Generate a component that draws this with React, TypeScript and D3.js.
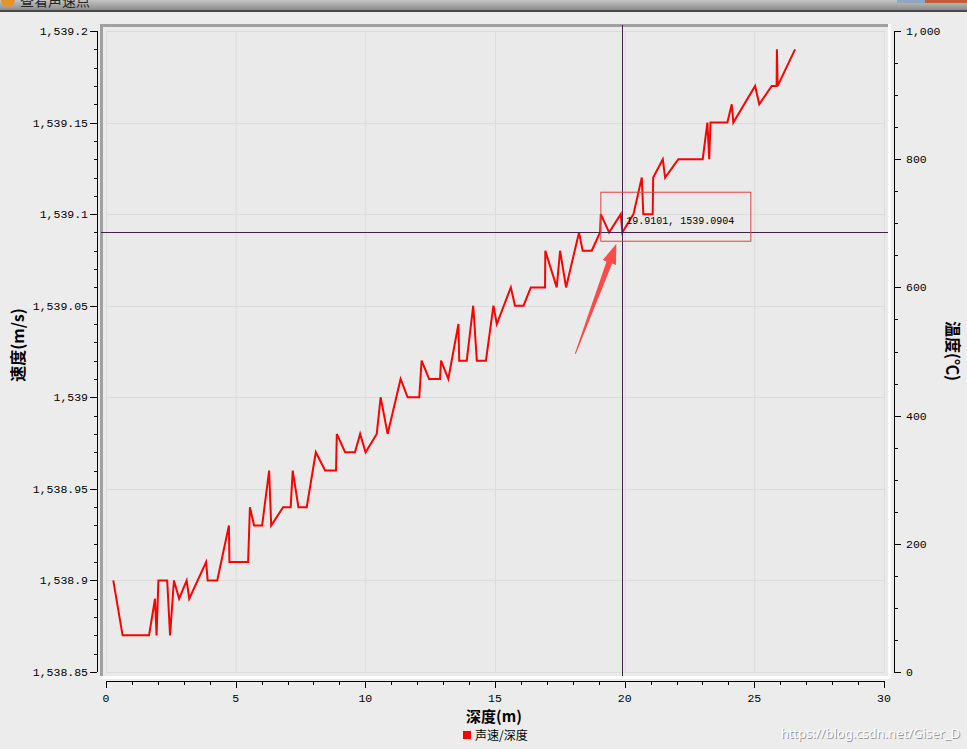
import React from 'react';
import * as d3 from 'd3';

// depth (m) / sound speed (m/s)
const depths = [
  0.28, 0.64, 1.66, 1.89, 1.95, 2.02, 2.36, 2.47, 2.62, 2.82, 3.11, 3.21, 3.86, 3.92, 4.29,
  4.74, 4.76, 5.48, 5.55, 5.71, 6.02, 6.29, 6.37, 6.83, 7.12, 7.2, 7.42, 7.74, 8.09, 8.45,
  8.87, 8.9, 9.22, 9.6, 9.8, 10.01, 10.44, 10.59, 10.86, 11.36, 11.63, 12.08, 12.17, 12.46,
  12.88, 12.92, 13.2, 13.59, 13.62, 13.91, 14.16, 14.3, 14.65, 14.94, 15.07, 15.61, 15.77,
  16.1, 16.38, 16.93, 16.94, 17.38, 17.51, 17.74, 18.24, 18.38, 18.73, 19.05, 19.08, 19.4,
  19.85, 19.91, 20.34, 20.66, 20.72, 21.08, 21.1, 21.47, 21.56, 22.07, 23.01, 23.19, 23.26,
  23.31, 23.96, 24.13, 24.19, 25.03, 25.19, 25.67, 25.86, 25.87, 25.9, 26.57,
];
const speeds = [
  1538.9, 1538.87, 1538.87, 1538.89, 1538.87, 1538.9, 1538.9, 1538.87, 1538.9, 1538.89, 1538.9, 1538.89, 1538.91, 1538.9, 1538.9,
  1538.93, 1538.91, 1538.91, 1538.94, 1538.93, 1538.93, 1538.96, 1538.93, 1538.94, 1538.94, 1538.96, 1538.94, 1538.94, 1538.97, 1538.96,
  1538.96, 1538.98, 1538.97, 1538.97, 1538.98, 1538.97, 1538.98, 1539.0, 1538.98, 1539.01, 1539.0, 1539.0, 1539.02, 1539.01,
  1539.01, 1539.02, 1539.01, 1539.04, 1539.02, 1539.02, 1539.05, 1539.02, 1539.02, 1539.05, 1539.04, 1539.06, 1539.05,
  1539.05, 1539.06, 1539.06, 1539.08, 1539.06, 1539.08, 1539.06, 1539.09, 1539.08, 1539.08, 1539.09, 1539.1, 1539.09,
  1539.1, 1539.09, 1539.1, 1539.12, 1539.1, 1539.1, 1539.12, 1539.13, 1539.12, 1539.13, 1539.13, 1539.15, 1539.13,
  1539.15, 1539.15, 1539.16, 1539.15, 1539.17, 1539.16, 1539.17, 1539.17, 1539.19, 1539.17, 1539.19,
];

const xTicks = [0, 5, 10, 15, 20, 25, 30];
const yTicks = [1538.85, 1538.9, 1538.95, 1539, 1539.05, 1539.1, 1539.15, 1539.2];
const tempTicks = [0, 200, 400, 600, 800, 1000];

const cursor = { depth: 19.9101, speed: 1539.0904 };

const W = 967;
const H = 749;
const mono = '"Liberation Mono", "DejaVu Sans Mono", monospace';
const cjk = '"Noto Sans CJK SC", "Noto Sans", sans-serif';

const App: React.FC = () => {
  const x = d3.scaleLinear().domain([0, 30]).range([106, 884]);
  const y = d3.scaleLinear().domain([1538.85, 1539.2]).range([672, 31]);
  const yT = d3.scaleLinear().domain([0, 1000]).range([672, 31]);
  const fmt = d3.format(',');

  const data = depths.map((d, i) => ({ d, v: speeds[i] }));
  const line = d3.line<{ d: number; v: number }>().x(p => x(p.d)).y(p => y(p.v));

  const xMinor = d3.range(0, 31, 1);
  const yMinor = d3.range(0, 36).map(i => 1538.85 + i * 0.01);
  const tMinor = d3.range(0, 1001, 50);

  const axisBottomY = 681;
  const axisLeftX = 97;
  const axisRightX = 894;

  const cx = x(cursor.depth);
  const cy = y(cursor.speed);

  // arrow pointing at the readout
  const tip = [cx - 6, cy + 12];
  const tail = [tip[0] - 41, tip[1] + 110];
  const ang = Math.atan2(tip[1] - tail[1], tip[0] - tail[0]);
  const len = Math.hypot(tip[0] - tail[0], tip[1] - tail[1]);
  const ux = Math.cos(ang), uy = Math.sin(ang);
  const nx = -uy, ny = ux;
  const headLen = 20, headW = 7, shaftW = 3;
  const base = [tail[0] + ux * (len - headLen), tail[1] + uy * (len - headLen)];
  const arrowPts = [
    [tail[0] + nx * 0.5, tail[1] + ny * 0.5],
    [base[0] + nx * shaftW, base[1] + ny * shaftW],
    [base[0] + nx * headW, base[1] + ny * headW],
    tip,
    [base[0] - nx * headW, base[1] - ny * headW],
    [base[0] - nx * shaftW, base[1] - ny * shaftW],
    [tail[0] - nx * 0.5, tail[1] - ny * 0.5],
  ].map(p => p.join(',')).join(' ');

  return (
    <svg width={W} height={H} style={{ position: 'absolute', left: 0, top: 0 }}>
      <defs>
        <linearGradient id="titlebar" x1="0" y1="0" x2="0" y2="1">
          <stop offset="0" stopColor="#c4c4c4" />
          <stop offset="1" stopColor="#8c8c8c" />
        </linearGradient>
        <clipPath id="titleclip">
          <rect x={0} y={0} width={W} height={10} />
        </clipPath>
      </defs>
      <rect x={0} y={0} width={W} height={H} fill="#ececec" />

      {/* window title bar (cut off) */}
      <rect x={0} y={0} width={W} height={10} fill="url(#titlebar)" />
      <g clipPath="url(#titleclip)">
        <circle cx={8} cy={0} r={7} fill="#e8922c" />
        <text x={20} y={6} fontSize={14} fontFamily={cjk} fill="#222">查看声速点</text>
        <rect x={897} y={0} width={28} height={3} fill="#8fa6c4" />
        <rect x={925} y={0} width={42} height={3} fill="#c85a44" />
      </g>
      <rect x={0} y={10} width={W} height={2} fill="#4a4a4a" />

      {/* plot panel */}
      <rect x={100} y={24} width={791} height={655} fill="#eaeaea" />
      <rect x={100} y={24} width={791} height={3} fill="#a0a0a0" />
      <rect x={100} y={24} width={3} height={655} fill="#a0a0a0" />
      <rect x={888} y={24} width={3} height={655} fill="#ffffff" />
      <rect x={100} y={676} width={791} height={3} fill="#ffffff" />

      {/* grid */}
      <g stroke="#dcdcdc" strokeWidth={1}>
        {xTicks.map(t => (
          <line key={'gx' + t} x1={x(t) + 0.5} x2={x(t) + 0.5} y1={31} y2={672} />
        ))}
        {yTicks.map(t => (
          <line key={'gy' + t} x1={106} x2={884} y1={Math.round(y(t)) + 0.5} y2={Math.round(y(t)) + 0.5} />
        ))}
      </g>

      {/* left axis */}
      <g stroke="#000" strokeWidth={1} shapeRendering="crispEdges">
        <line x1={axisLeftX} x2={axisLeftX} y1={31} y2={672} />
        {yMinor.map((t, i) => (
          <line key={'ylm' + i} x1={axisLeftX - 3} x2={axisLeftX} y1={Math.round(y(t))} y2={Math.round(y(t))} />
        ))}
        {yTicks.map(t => (
          <line key={'ylM' + t} x1={axisLeftX - 7} x2={axisLeftX} y1={Math.round(y(t))} y2={Math.round(y(t))} />
        ))}
      </g>
      <g fontFamily={mono} fontSize={11.5} fill="#000" textAnchor="end">
        {yTicks.map(t => (
          <text key={'yl' + t} x={88} y={y(t)} dy="0.35em">{fmt(t)}</text>
        ))}
      </g>

      {/* right axis */}
      <g stroke="#000" strokeWidth={1} shapeRendering="crispEdges">
        <line x1={axisRightX} x2={axisRightX} y1={31} y2={672} />
        {tMinor.map(t => (
          <line key={'trm' + t} x1={axisRightX} x2={axisRightX + 4} y1={Math.round(yT(t))} y2={Math.round(yT(t))} />
        ))}
        {tempTicks.map(t => (
          <line key={'trM' + t} x1={axisRightX} x2={axisRightX + 7} y1={Math.round(yT(t))} y2={Math.round(yT(t))} />
        ))}
      </g>
      <g fontFamily={mono} fontSize={11.5} fill="#000" textAnchor="start">
        {tempTicks.map(t => (
          <text key={'tl' + t} x={906} y={yT(t)} dy="0.35em">{fmt(t)}</text>
        ))}
      </g>

      {/* bottom axis */}
      <g stroke="#000" strokeWidth={1} shapeRendering="crispEdges">
        <line x1={106} x2={884} y1={axisBottomY} y2={axisBottomY} />
        {xMinor.map(t => (
          <line key={'xm' + t} x1={Math.round(x(t))} x2={Math.round(x(t))} y1={axisBottomY} y2={axisBottomY + 4} />
        ))}
        {xTicks.map(t => (
          <line key={'xM' + t} x1={Math.round(x(t))} x2={Math.round(x(t))} y1={axisBottomY} y2={axisBottomY + 7} />
        ))}
      </g>
      <g fontFamily={mono} fontSize={11.5} fill="#000" textAnchor="middle">
        {xTicks.map(t => (
          <text key={'xl' + t} x={x(t)} y={702}>{t}</text>
        ))}
      </g>

      {/* axis titles */}
      <text x={494} y={722} textAnchor="middle" fontFamily={cjk} fontWeight="bold" fontSize={15} fill="#000">深度(m)</text>
      <text transform="translate(24,345) rotate(-90)" textAnchor="middle" fontFamily={cjk} fontWeight="bold" fontSize={16} fill="#000">速度(m/s)</text>
      <text transform="translate(947,351) rotate(90)" textAnchor="middle" fontFamily={cjk} fontWeight="bold" fontSize={16} fill="#000">温度(℃)</text>

      {/* series */}
      <path d={line(data) || ''} fill="none" stroke="#ff0000" strokeWidth={2} strokeLinejoin="miter" />

      {/* crosshair */}
      <g stroke="#45204d" strokeWidth={1} shapeRendering="crispEdges">
        <line x1={Math.round(cx)} x2={Math.round(cx)} y1={25} y2={676} />
        <line x1={101} x2={888} y1={Math.round(cy)} y2={Math.round(cy)} />
      </g>
      <rect x={cx - 21.5} y={cy - 39.5} width={150} height={49} fill="none" stroke="#e84040" strokeWidth={1} />
      <text x={cx + 4} y={cy - 8} fontFamily={mono} fontSize={10} fill="#000">
        {`${cursor.depth}, ${cursor.speed}`}
      </text>
      <polygon points={arrowPts} fill="#ff3a3a" opacity={0.9} />

      {/* legend */}
      <rect x={463} y={731} width={8} height={8} fill="#ff0000" />
      <text x={475} y={740} fontFamily={cjk} fontSize={12} fill="#000">声速/深度</text>

      {/* watermark */}
      <text x={961} y={739} textAnchor="end" fontFamily='"Noto Sans", sans-serif' fontSize={13} fill="#9a9a9a">https://blog.csdn.net/Giser_D</text>
      <text x={960} y={738} textAnchor="end" fontFamily='"Noto Sans", sans-serif' fontSize={13} fill="#ffffff">https://blog.csdn.net/Giser_D</text>
    </svg>
  );
};

export default App;
